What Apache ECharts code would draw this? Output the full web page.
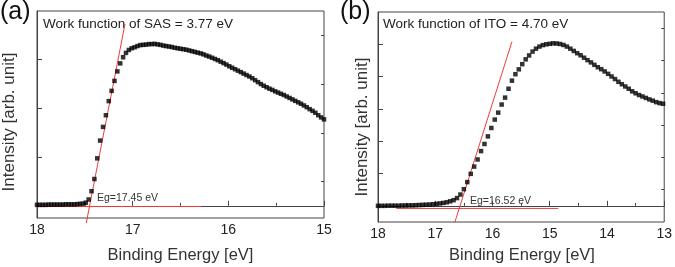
<!DOCTYPE html>
<html>
<head>
<meta charset="utf-8">
<script src="https://cdn.jsdelivr.net/npm/echarts@6/dist/echarts.min.js"></script>
<style>
  html, body { margin: 0; padding: 0; background: #fff; }
  #chart { width: 675px; height: 267px; }
</style>
</head>
<body>
<div id="chart"></div>
<script>
// panel (a) : SAS
var energyA = [
  18.00, 17.97, 17.94, 17.91, 17.88, 17.85, 17.82, 17.79, 17.76, 17.73,
  17.70, 17.67, 17.64, 17.61, 17.58, 17.55, 17.52, 17.49, 17.46, 17.43,
  17.40, 17.37, 17.34, 17.31, 17.28, 17.25, 17.22, 17.19, 17.16, 17.13,
  17.10, 17.07, 17.04, 17.01, 16.98, 16.95, 16.92, 16.89, 16.86, 16.83,
  16.80, 16.77, 16.74, 16.71, 16.68, 16.65, 16.62, 16.59, 16.56, 16.53,
  16.50, 16.47, 16.44, 16.41, 16.38, 16.35, 16.32, 16.29, 16.26, 16.23,
  16.20, 16.17, 16.14, 16.11, 16.08, 16.05, 16.02, 15.99, 15.96, 15.93,
  15.90, 15.87, 15.84, 15.81, 15.78, 15.75, 15.72, 15.69, 15.66, 15.63,
  15.60, 15.57, 15.54, 15.51, 15.48, 15.45, 15.42, 15.39, 15.36, 15.33,
  15.30, 15.27, 15.24, 15.21, 15.18, 15.15, 15.12, 15.09, 15.06, 15.03,
  15.00
];
var intensityA = [
  0.04, 0.04, 0.04, 0.04, 0.05, 0.05, 0.05, 0.05, 0.05, 0.05,
  0.06, 0.06, 0.06, 0.06, 0.07, 0.08, 0.09, 0.13, 0.26, 0.60,
  1.10, 1.95, 2.68, 3.24, 3.72, 4.30, 4.72, 5.13, 5.52, 5.85,
  6.10, 6.28, 6.40, 6.47, 6.51, 6.56, 6.60, 6.61, 6.62, 6.64,
  6.64, 6.65, 6.63, 6.61, 6.58, 6.56, 6.54, 6.52, 6.49, 6.47,
  6.45, 6.43, 6.41, 6.38, 6.35, 6.32, 6.29, 6.26, 6.22, 6.17,
  6.13, 6.08, 6.03, 5.98, 5.92, 5.86, 5.80, 5.73, 5.67, 5.61,
  5.55, 5.49, 5.43, 5.37, 5.31, 5.24, 5.16, 5.08, 5.00, 4.93,
  4.87, 4.81, 4.76, 4.70, 4.65, 4.60, 4.55, 4.49, 4.43, 4.37,
  4.31, 4.25, 4.19, 4.12, 4.05, 3.97, 3.90, 3.82, 3.72, 3.63,
  3.55
];
var baseFitA = [[18.00, -0.03], [16.28, -0.03]];
var edgeFitA = [[17.485, -0.70], [17.08, 7.47]];

// panel (b) : ITO
var energyB = [
  18.00, 17.94, 17.88, 17.82, 17.76, 17.70, 17.64, 17.58, 17.52, 17.46,
  17.40, 17.34, 17.28, 17.22, 17.16, 17.10, 17.04, 16.98, 16.92, 16.86,
  16.80, 16.74, 16.68, 16.62, 16.56, 16.50, 16.44, 16.38, 16.32, 16.26,
  16.20, 16.14, 16.08, 16.02, 15.96, 15.90, 15.84, 15.78, 15.72, 15.66,
  15.60, 15.54, 15.48, 15.42, 15.36, 15.30, 15.24, 15.18, 15.12, 15.06,
  15.00, 14.94, 14.88, 14.82, 14.76, 14.70, 14.64, 14.58, 14.52, 14.46,
  14.40, 14.34, 14.28, 14.22, 14.16, 14.10, 14.04, 13.98, 13.92, 13.86,
  13.80, 13.74, 13.68, 13.62, 13.56, 13.50, 13.44, 13.38, 13.32, 13.26,
  13.20, 13.14, 13.08, 13.02
];
var intensityB = [
  0.00, 0.00, 0.00, 0.01, 0.01, 0.01, 0.01, 0.02, 0.02, 0.03,
  0.03, 0.04, 0.05, 0.06, 0.07, 0.08, 0.10, 0.12, 0.15, 0.18,
  0.22, 0.28, 0.35, 0.48, 0.70, 1.03, 1.47, 1.98, 2.43, 2.87,
  3.39, 3.83, 4.30, 4.82, 5.34, 5.77, 6.27, 6.70, 7.25, 7.75,
  8.15, 8.45, 8.77, 9.07, 9.31, 9.55, 9.73, 9.86, 9.95, 10.00,
  10.03, 10.06, 10.05, 10.02, 9.96, 9.86, 9.73, 9.59, 9.45, 9.32,
  9.17, 9.02, 8.88, 8.73, 8.58, 8.46, 8.32, 8.17, 8.01, 7.85,
  7.68, 7.53, 7.39, 7.25, 7.09, 6.97, 6.86, 6.77, 6.68, 6.59,
  6.51, 6.42, 6.36, 6.32
];
var baseFitB = [[17.68, -0.16], [14.85, -0.16]];
var edgeFitB = [[16.66, -1.04], [15.66, 10.16]];

var majorTicksA = [0, 2, 4, 6];
var minorTicksA = [1, 3, 5, 7];
var majorTicksB = [2, 4, 6, 8, 10];
var minorTicksB = [1, 3, 5, 7, 9, 11];

function pairs(xs, ys) {
    return xs.map(function(x, i) { return [x, ys[i]]; });
}

var font = 'Liberation Sans, Arial, sans-serif';
var red = '#ee3d3a';

function xAxisOf(grid, min, max) {
    return {
        gridIndex: grid, type: 'value', min: min, max: max, interval: 1, inverse: true,
        axisLine: { lineStyle: { color: '#444', width: 1 } },
        axisTick: { inside: true, length: 5, lineStyle: { color: '#444' } },
        minorTick: { show: true, splitNumber: 2, length: 3, lineStyle: { color: '#444' } },
        splitLine: { show: false },
        axisLabel: { color: '#222', fontSize: 14, fontFamily: font, margin: 5 }
    };
}

function yAxisOf(grid, min, max, ticks, len, line) {
    return {
        gridIndex: grid, type: 'value', min: min, max: max,
        axisLine: { show: line, lineStyle: { color: '#444', width: 1 } },
        axisTick: { show: true, inside: true, length: len, customValues: ticks, lineStyle: { color: '#444' } },
        axisLabel: { show: false },
        splitLine: { show: false }
    };
}

var chart = echarts.init(document.getElementById('chart'));
var option = {
    animation: false,
    backgroundColor: '#fff',
    grid: [
        { left: 37, right: 351, top: 11, bottom: 49, show: true, borderColor: '#444', borderWidth: 1 },
        { left: 378, right: 8, top: 12, bottom: 45, show: true, borderColor: '#444', borderWidth: 1 }
    ],
    xAxis: [xAxisOf(0, 15, 18), xAxisOf(1, 13, 18)],
    yAxis: [
        yAxisOf(0, -0.5, 8, majorTicksA, 5, true),
        yAxisOf(0, -0.5, 8, minorTicksA, 3, false),
        yAxisOf(1, -1, 12, majorTicksB, 5, true),
        yAxisOf(1, -1, 12, minorTicksB, 3, false)
    ],
    series: [
        { type: 'line', xAxisIndex: 0, yAxisIndex: 0, data: baseFitA, symbol: 'none', clip: false,
          lineStyle: { color: red, width: 1 }, z: 1 },
        { type: 'line', xAxisIndex: 0, yAxisIndex: 0, data: edgeFitA, symbol: 'none', clip: false,
          lineStyle: { color: red, width: 1 }, z: 1 },
        { type: 'scatter', xAxisIndex: 0, yAxisIndex: 0, data: pairs(energyA, intensityA),
          symbol: 'rect', symbolSize: 4.5, itemStyle: { color: '#000' }, z: 2 },
        { type: 'line', xAxisIndex: 1, yAxisIndex: 2, data: baseFitB, symbol: 'none', clip: false,
          lineStyle: { color: red, width: 1 }, z: 1 },
        { type: 'line', xAxisIndex: 1, yAxisIndex: 2, data: edgeFitB, symbol: 'none', clip: false,
          lineStyle: { color: red, width: 1 }, z: 1 },
        { type: 'scatter', xAxisIndex: 1, yAxisIndex: 2, data: pairs(energyB, intensityB),
          symbol: 'rect', symbolSize: 4.5, itemStyle: { color: '#000' }, z: 2 }
    ],
    graphic: [
        { type: 'text', left: 0, top: 0, style: { text: '(a)', font: '25px ' + font, fill: '#111' } },
        { type: 'text', left: 340, top: 0, style: { text: '(b)', font: '25px ' + font, fill: '#111' } },
        { type: 'text', x: 43, y: 24, style: { text: 'Work function of SAS = 3.77 eV', font: '13.5px ' + font,
          fill: '#222', verticalAlign: 'middle' } },
        { type: 'text', x: 383, y: 24, style: { text: 'Work function of ITO = 4.70 eV', font: '13.5px ' + font,
          fill: '#222', verticalAlign: 'middle' } },
        { type: 'text', x: 97, y: 198, style: { text: 'Eg=17.45 eV', font: '10.5px ' + font,
          fill: '#333', verticalAlign: 'middle' } },
        { type: 'text', x: 470, y: 201, style: { text: 'Eg=16.52 eV', font: '10.5px ' + font,
          fill: '#333', verticalAlign: 'middle' } },
        { type: 'text', x: 180.5, y: 255, style: { text: 'Binding Energy [eV]', font: '16.5px ' + font,
          fill: '#333', align: 'center', verticalAlign: 'middle' } },
        { type: 'text', x: 522, y: 255, style: { text: 'Binding Energy [eV]', font: '16.5px ' + font,
          fill: '#333', align: 'center', verticalAlign: 'middle' } },
        { type: 'text', x: 9, y: 122, rotation: Math.PI / 2, style: { text: 'Intensity [arb. unit]',
          font: '17px ' + font, fill: '#333', align: 'center', verticalAlign: 'middle' } },
        { type: 'text', x: 362, y: 127, rotation: Math.PI / 2, style: { text: 'Intensity [arb. unit]',
          font: '17px ' + font, fill: '#333', align: 'center', verticalAlign: 'middle' } }
    ]
};
chart.setOption(option);
</script>
</body>
</html>
